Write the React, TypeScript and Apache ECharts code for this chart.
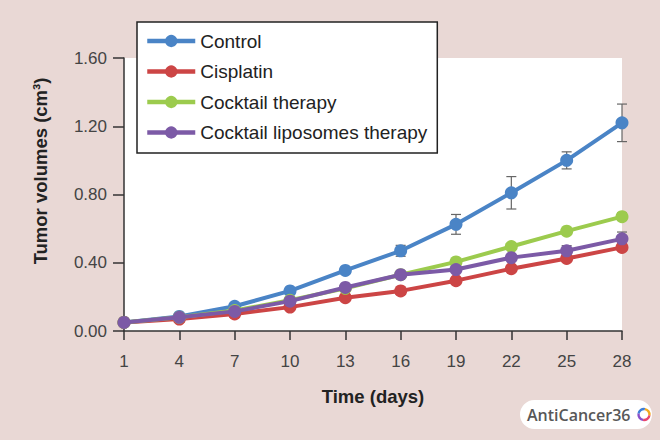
import React, { useEffect, useRef } from "react";
import * as echarts from "echarts";

// Days of measurement
const days = ["1", "4", "7", "10", "13", "16", "19", "22", "25", "28"];

// Mean tumour volumes (cm³) per group
const control = [0.05, 0.085, 0.145, 0.235, 0.355, 0.47, 0.625, 0.81, 1.0, 1.22];
const cisplatin = [0.05, 0.07, 0.1, 0.14, 0.195, 0.235, 0.295, 0.365, 0.425, 0.49];
const cocktail = [0.05, 0.08, 0.12, 0.18, 0.25, 0.33, 0.405, 0.495, 0.585, 0.67];
const cocktailLipo = [0.05, 0.08, 0.115, 0.175, 0.255, 0.33, 0.36, 0.43, 0.47, 0.54];

// Standard deviations (0 = no visible bar)
const controlErr = [0, 0, 0, 0.012, 0.018, 0.032, 0.058, 0.095, 0.05, 0.11];
const cisplatinErr = [0, 0, 0, 0, 0, 0, 0, 0, 0, 0.01];
const cocktailErr = [0, 0, 0, 0, 0, 0, 0, 0, 0.01, 0.022];
const cocktailLipoErr = [0, 0, 0, 0, 0, 0, 0, 0.01, 0.03, 0.04];

const yTicks = { min: 0, max: 1.6, interval: 0.4 };

const groups = [
  { name: "Control", color: "#4a84c6", values: control, err: controlErr },
  { name: "Cisplatin", color: "#cc4545", values: cisplatin, err: cisplatinErr },
  { name: "Cocktail therapy", color: "#9ccb4e", values: cocktail, err: cocktailErr },
  { name: "Cocktail liposomes therapy", color: "#7c5aa6", values: cocktailLipo, err: cocktailLipoErr },
];

const FONT = "'Liberation Sans', Arial, Helvetica, sans-serif";

export default function App() {
  const ref = useRef<HTMLDivElement>(null);

  useEffect(() => {
    if (!ref.current) return;
    const chart = echarts.init(ref.current, null, { renderer: "svg" });

    const errorSeries = groups.map((g) => ({
      type: "custom",
      z: 1,
      silent: true,
      data: g.values
        .map((v, i) => [i, v - g.err[i], v + g.err[i], g.err[i]])
        .filter((d) => d[3] > 0),
      renderItem: (_params: any, api: any) => {
        const idx = api.value(0);
        const top = api.coord([idx, api.value(2)]);
        const bot = api.coord([idx, api.value(1)]);
        const cap = 5;
        const style = { stroke: "#666", lineWidth: 1.2 };
        return {
          type: "group",
          children: [
            { type: "line", shape: { x1: top[0], y1: top[1], x2: bot[0], y2: bot[1] }, style },
            { type: "line", shape: { x1: top[0] - cap, y1: top[1], x2: top[0] + cap, y2: top[1] }, style },
            { type: "line", shape: { x1: bot[0] - cap, y1: bot[1], x2: bot[0] + cap, y2: bot[1] }, style },
          ],
        };
      },
    }));

    const lineSeries = groups.map((g, k) => ({
      name: g.name,
      type: "line",
      z: 2 + k,
      data: g.values,
      symbol: "circle",
      symbolSize: 13,
      color: g.color,
      itemStyle: { color: g.color },
      lineStyle: { color: g.color, width: 4 },
    }));

    chart.setOption({
      animation: false,
      backgroundColor: "#e9d8d5",
      textStyle: { fontFamily: FONT },
      grid: {
        left: 124,
        right: 38,
        top: 58,
        bottom: 109,
        show: true,
        backgroundColor: "#ffffff",
        borderWidth: 0,
      },
      legend: {
        data: groups.map((g) => g.name),
        orient: "vertical",
        left: 137,
        top: 22,
        padding: [9.5, 10, 11, 8],
        itemGap: 11.5,
        itemWidth: 48,
        itemHeight: 15.5,
        lineStyle: { width: 4.5 },
        backgroundColor: "#ffffff",
        borderColor: "#222",
        borderWidth: 1.5,
        borderRadius: 0,
        textStyle: { fontSize: 19, color: "#222", fontFamily: FONT, lineHeight: 19 },
      },
      xAxis: {
        type: "category",
        data: days,
        boundaryGap: false,
        name: "Time (days)",
        nameLocation: "middle",
        nameGap: 56,
        nameTextStyle: { fontSize: 18.5, fontWeight: "bold", color: "#222", fontFamily: FONT },
        axisLine: { show: true, lineStyle: { color: "#333", width: 1.5 } },
        axisTick: { show: true, alignWithLabel: true, length: 9, lineStyle: { color: "#333", width: 1.5 } },
        axisLabel: { fontSize: 17, color: "#444", margin: 22, fontFamily: FONT },
        splitLine: { show: false },
      },
      yAxis: {
        type: "value",
        min: yTicks.min,
        max: yTicks.max,
        interval: yTicks.interval,
        name: "Tumor volumes (cm³)",
        nameLocation: "middle",
        nameRotate: 90,
        nameGap: 74,
        nameTextStyle: {
          fontSize: 18.5,
          fontWeight: "bold",
          color: "#222",
          fontFamily: FONT,
          padding: [0, 0, 0, 47],
        },
        axisLine: { show: true, lineStyle: { color: "#333", width: 1.5 } },
        axisTick: { show: true, length: 11, lineStyle: { color: "#333", width: 1.5 } },
        axisLabel: {
          fontSize: 17,
          color: "#444",
          margin: 17,
          fontFamily: FONT,
          formatter: (v: number) => v.toFixed(2),
        },
        splitLine: { show: false },
      },
      graphic: [
        {
          type: "group",
          left: 520,
          top: 400,
          children: [
            {
              type: "rect",
              shape: { x: 0, y: 0, width: 132, height: 29, r: 14.5 },
              style: { fill: "#ffffff" },
            },
            {
              type: "text",
              x: 7,
              y: 14.5,
              style: {
                text: "AntiCancer36",
                font: "600 16px 'Open Sans', sans-serif",
                fill: "#585858",
                textVerticalAlign: "middle",
              },
            },
            { type: "arc", shape: { cx: 124, cy: 14.5, r: 5.5, startAngle: -Math.PI * 0.95, endAngle: -Math.PI * 0.45 }, style: { stroke: "#3f7fd8", lineWidth: 2.4, fill: "none" } },
            { type: "arc", shape: { cx: 124, cy: 14.5, r: 5.5, startAngle: -Math.PI * 0.45, endAngle: Math.PI * 0.05 }, style: { stroke: "#f3a81e", lineWidth: 2.4, fill: "none" } },
            { type: "arc", shape: { cx: 124, cy: 14.5, r: 5.5, startAngle: Math.PI * 0.05, endAngle: Math.PI * 0.55 }, style: { stroke: "#e9456c", lineWidth: 2.4, fill: "none" } },
            { type: "arc", shape: { cx: 124, cy: 14.5, r: 5.5, startAngle: Math.PI * 0.55, endAngle: Math.PI * 1.05 }, style: { stroke: "#8a4fc9", lineWidth: 2.4, fill: "none" } },
          ],
        },
      ],
      series: [...errorSeries, ...lineSeries],
    });

    return () => chart.dispose();
  }, []);

  return (
    <div
      ref={ref}
      style={{ position: "fixed", left: 0, top: 0, width: 660, height: 440 }}
    />
  );
}
